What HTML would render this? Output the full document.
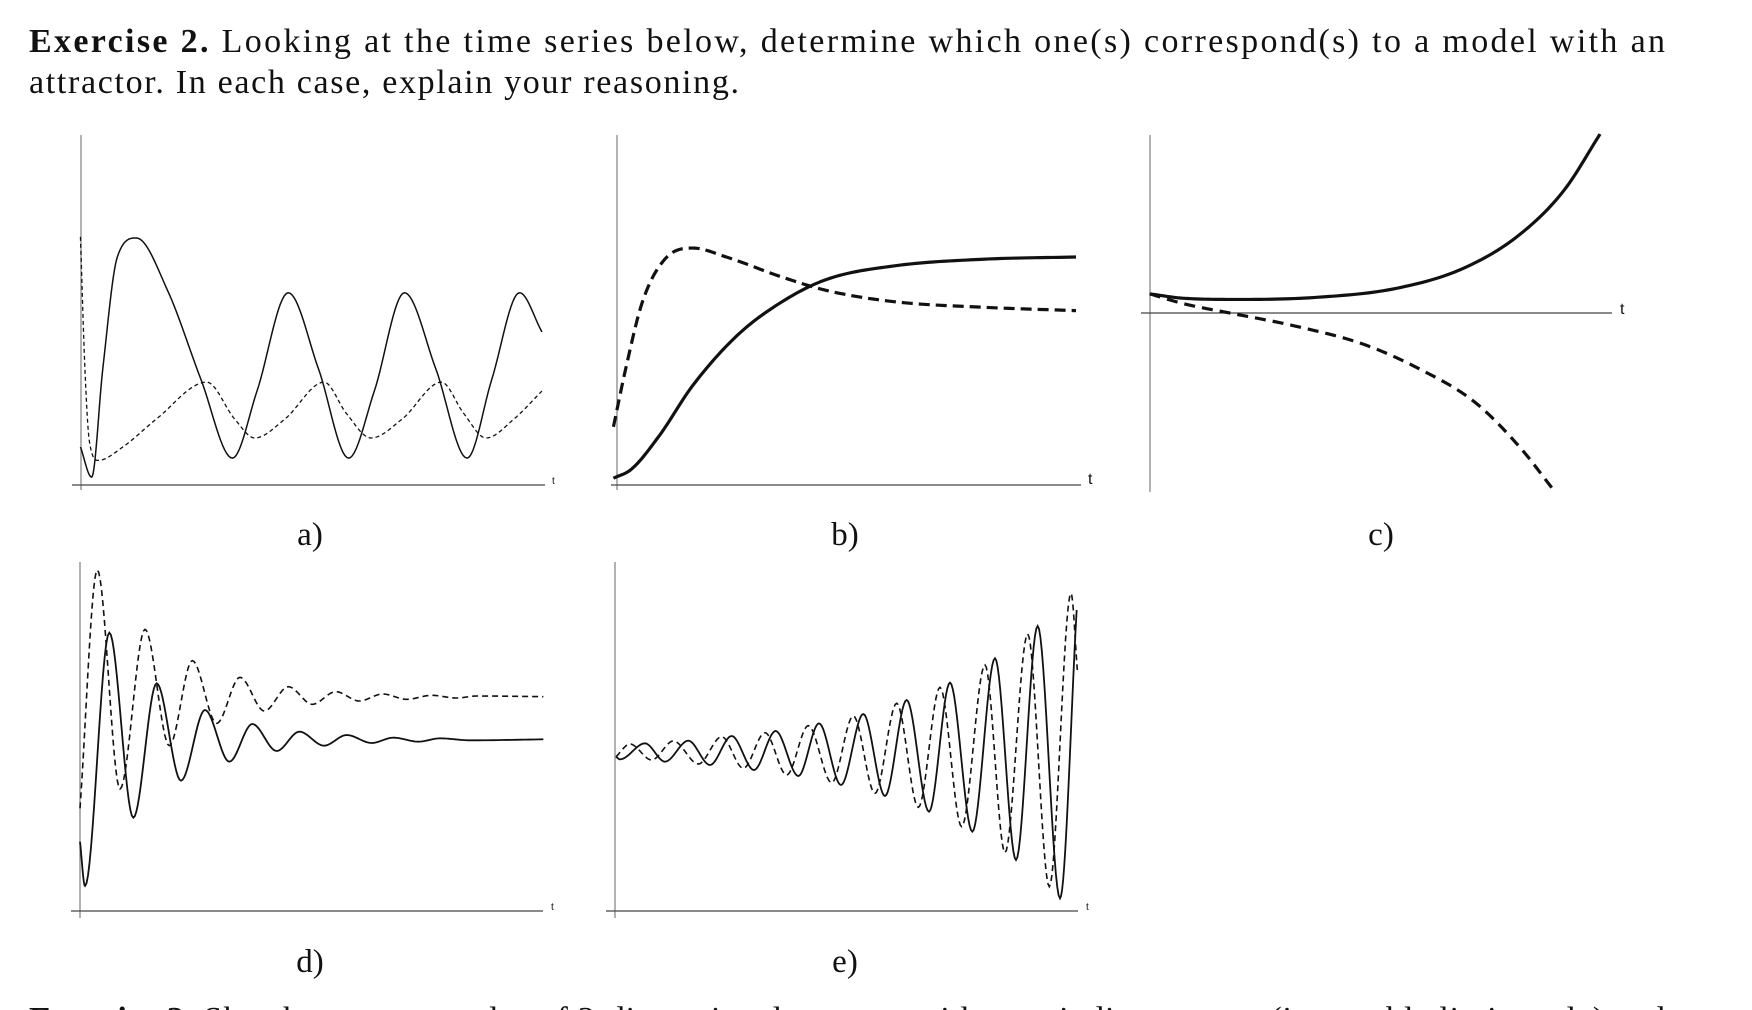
<!DOCTYPE html>
<html><head><meta charset="utf-8"><style>
html,body{margin:0;padding:0;background:#fff;}
svg{display:block;}
text{font-family:"Liberation Serif","DejaVu Serif",serif;fill:#111;}
</style></head><body>
<svg id="fig" width="1752" height="1010" viewBox="0 0 1752 1010" xmlns="http://www.w3.org/2000/svg">
<text x="29" y="52" font-size="34" textLength="1636" lengthAdjust="spacing"><tspan font-weight="bold">Exercise 2.</tspan> Looking at the time series below, determine which one(s) correspond(s) to a model with an</text>
<text x="29" y="93" font-size="34" textLength="710" lengthAdjust="spacing">attractor. In each case, explain your reasoning.</text>
<text x="29" y="1030" font-size="34" textLength="1636" lengthAdjust="spacing"><tspan font-weight="bold">Exercise 3.</tspan> Sketch some examples of 2-dimensional systems with a periodic attractor (i.e., stable limit cycle) and</text>
<g id="plots"></g>
</svg>
<script>
// ---- data (time, value) per panel ----
const aSolidT=[0.2,1.2,2.2,3.5,5.2,8.0,11.0,13.8,16.0,18.8,21.5,24.2,26.5,29.2,32.0,34.8,37.0,39.5,41.5];
const aSolidV=[3.3,0.6,10.3,20.3,22.0,17.3,9.3,2.3,8.3,17.1,10.3,2.3,8.3,17.1,10.3,2.3,9.3,17.1,13.6];
const aDashT=[0.2,0.6,1.0,1.8,4.0,7.0,11.5,14.0,15.8,18.5,22.0,24.0,26.2,29.0,32.5,34.5,36.5,39.0,41.5];
const aDashV=[22.1,10.3,3.8,2.1,3.3,5.8,9.1,5.8,4.1,5.8,9.1,6.3,4.1,5.8,9.1,6.3,4.1,5.8,8.3];
const bSolidT=[0,1.6,4.1,7.1,11.1,15.1,19.1,25.1,33.1,41.4];
const bSolidV=[0.5,1.3,4.3,8.8,13.3,16.3,18.3,19.5,20.1,20.3];
const bDashT=[0,1.1,2.6,4.6,7.1,10.1,15.1,19.1,25.1,33.1,41.4];
const bDashV=[5.1,10.3,16.3,20.1,21.1,20.3,18.5,17.3,16.3,15.8,15.5];
const cSolidT=[0,3.1,8.1,15.1,22.1,28.1,33.1,37.1,40.3];
const cSolidV=[1.7,1.3,1.2,1.4,2.2,4.0,7.0,11.0,16.0];
const cDashT=[0,3.1,7.1,13.1,19.1,24.1,29.1,33.1,36.1];
const cDashV=[1.7,0.8,0,-1.2,-2.8,-5.0,-8.0,-12.0,-15.8];
const dSolidT=[0,15,88,160,230,303,375,448,517,590,658,732,800,875,940,1015,1080,1170,1390];
const dSolidV=[208,75,835,280,683,391,603,448,561,480,538,496,528,504,520,508,518,512,515];
const dDashT=[0,52,120,195,268,337,410,480,553,625,697,767,838,908,980,1055,1130,1190,1390];
const dDashV=[308,1023,366,845,496,751,563,701,600,673,620,658,630,651,635,647,639,645,643];
const eSolidT=[3,15,90,150,220,285,350,417,482,550,612,678,745,810,875,942,1005,1072,1140,1203,1268,1335,1385];
const eSolidV=[463,455,503,448,511,438,525,423,540,405,563,378,591,345,633,298,685,238,758,153,855,38,903];
const eDashT=[3,45,110,175,250,320,385,450,515,580,650,715,780,845,910,975,1040,1110,1170,1238,1303,1368,1387];
const eDashV=[463,501,453,510,441,523,428,535,408,556,385,585,353,623,311,671,253,738,175,831,73,953,723];

const K=1752/1568;
const NS="http://www.w3.org/2000/svg";
const root=document.getElementById('plots');

function xTop(x0){return t=>(x0+10*t)*K;}
function yTop(y0){return v=>(y0-10*v)*K;}
function xBot(ox,off){return t=>ox+(t+off)/3;}
function yBot(){return v=>560+(1053-v)/3;}

function monotone(T,V){
  const n=T.length,d=[],m=[];
  for(let i=0;i<n-1;i++)d.push((V[i+1]-V[i])/(T[i+1]-T[i]));
  m[0]=d[0];m[n-1]=d[n-2];
  for(let i=1;i<n-1;i++){m[i]=(d[i-1]*d[i]<=0)?0:(d[i-1]+d[i])/2;}
  for(let i=0;i<n-1;i++){
    if(d[i]===0){m[i]=0;m[i+1]=0;continue;}
    const a=m[i]/d[i],b=m[i+1]/d[i],s=a*a+b*b;
    if(s>9){const tt=3/Math.sqrt(s);m[i]=tt*a*d[i];m[i+1]=tt*b*d[i];}
  }
  const pts=[];
  for(let i=0;i<n-1;i++){
    const h=T[i+1]-T[i];
    for(let k=0;k<16;k++){
      const s=k/16,h00=2*s*s*s-3*s*s+1,h10=s*s*s-2*s*s+s,h01=-2*s*s*s+3*s*s,h11=s*s*s-s*s;
      pts.push([T[i]+s*h,h00*V[i]+h10*h*m[i]+h01*V[i+1]+h11*h*m[i+1]]);
    }
  }
  pts.push([T[n-1],V[n-1]]);
  return pts;
}
function series(name,T,V,xs,ys,w,dash){
  const p=document.createElementNS(NS,'path');
  const pts=monotone(T,V);
  p.setAttribute('d',pts.map((q,i)=>(i?'L':'M')+xs(q[0]).toFixed(2)+' '+ys(q[1]).toFixed(2)).join(''));
  p.setAttribute('fill','none');p.setAttribute('stroke','#111');
  p.setAttribute('stroke-width',w);
  if(dash)p.setAttribute('stroke-dasharray',dash);
  
  
  root.appendChild(p);
}
function line(name,x1,y1,x2,y2,col,w){
  const l=document.createElementNS(NS,'line');
  l.setAttribute('x1',x1);l.setAttribute('y1',y1);l.setAttribute('x2',x2);l.setAttribute('y2',y2);
  l.setAttribute('stroke',col);l.setAttribute('stroke-width',w);
  
  
  root.appendChild(l);
}
function txt(name,x,y,s,fs,fam,anchor){
  const t=document.createElementNS(NS,'text');
  t.setAttribute('x',x);t.setAttribute('y',y);t.setAttribute('font-size',fs);
  if(fam)t.setAttribute('style','font-family:"Liberation Sans",sans-serif');
  if(anchor)t.setAttribute('text-anchor',anchor);
  t.textContent=s;
  
  
  root.appendChild(t);
}
line('a-y-axis',81,135,81,490,'#888',1.3);
line('a-x-axis',72,485,545,485,'#444',1.3);
txt('a-t-label',552,484,'t',10,true);
series('a-solid-series',aSolidT,aSolidV,xTop(70),yTop(433),1.5,null);
series('a-dashed-series',aDashT,aDashV,xTop(70),yTop(433),1.3,'4 3');
txt('a-panel-label',310,545,'a)',33,false,'middle');
line('b-y-axis',617,135,617,490,'#888',1.3);
line('b-x-axis',611,485,1081,485,'#444',1.3);
txt('b-t-label',1088,484,'t',16,true);
series('b-solid-series',bSolidT,bSolidV,xTop(549),yTop(433),3.2,null);
series('b-dashed-series',bDashT,bDashV,xTop(549),yTop(433),3.2,'11 6');
txt('b-panel-label',845,545,'b)',33,false,'middle');
line('c-y-axis',1150,135,1150,492,'#888',1.3);
line('c-x-axis',1141,313,1612,313,'#444',1.3);
txt('c-t-label',1620,314,'t',16,true);
series('c-solid-series',cSolidT,cSolidV,xTop(1029),yTop(280),3.2,null);
series('c-dashed-series',cDashT,cDashV,xTop(1029),yTop(280),3.2,'11 7');
txt('c-panel-label',1381,545,'c)',33,false,'middle');
line('d-y-axis',80,562,80,918,'#888',1.3);
line('d-x-axis',71,911,543,911,'#444',1.3);
txt('d-t-label',551,910,'t',10,true);
series('d-solid-series',dSolidT,dSolidV,xBot(70,30),yBot(),1.8,null);
series('d-dashed-series',dDashT,dDashV,xBot(70,30),yBot(),1.6,'6 4');
txt('d-panel-label',310,972,'d)',33,false,'middle');
line('e-y-axis',615,562,615,918,'#888',1.3);
line('e-x-axis',606,911,1078,911,'#444',1.3);
txt('e-t-label',1086,910,'t',10,true);
series('e-solid-series',eSolidT,eSolidV,xBot(610,15),yBot(),1.8,null);
series('e-dashed-series',eDashT,eDashV,xBot(610,15),yBot(),1.6,'6 4');
txt('e-panel-label',845,972,'e)',33,false,'middle');
</script>
</body></html>
